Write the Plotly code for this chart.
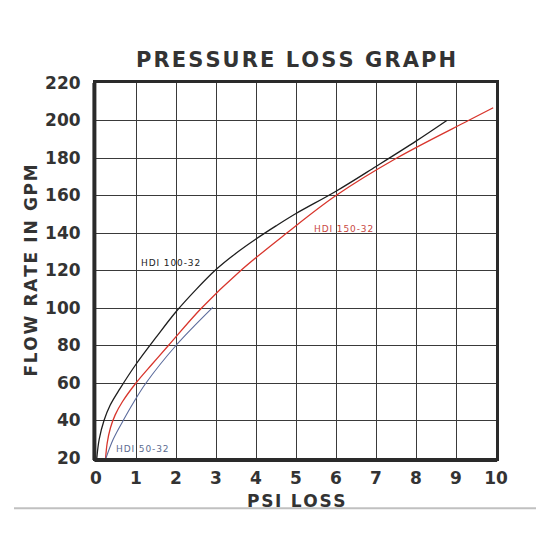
import plotly.graph_objects as go

# Curve readings (PSI loss, flow rate in GPM)
hdi100_psi = [0.02, 0.08, 0.2, 0.35, 0.6, 1.0, 1.5, 2.0, 2.5, 3.0, 3.5, 4.0, 4.5, 5.0, 6.0, 7.0, 8.0, 8.77]
hdi100_gpm = [20, 30, 40, 48, 57, 70, 84.3, 98, 109.8, 120.5, 129.2, 136.8, 143.8, 150.4, 162.3, 175.5, 189, 200]

hdi150_psi = [0.24, 0.28, 0.36, 0.48, 0.66, 1.0, 1.4, 1.81, 2.64, 3.62, 4.77, 6.0, 7.52, 9.31, 9.93]
hdi150_gpm = [20, 28, 36, 43, 50, 60, 70, 80, 100, 120, 140, 160, 180, 200, 206.8]

hdi50_psi = [0.25, 0.43, 0.68, 0.95, 1.25, 2.0, 2.92]
hdi50_gpm = [20, 30, 40, 50, 60, 80, 100.3]

x_ticks = list(range(0, 11))
y_ticks = list(range(20, 221, 20))


def spaced(s, gap='\u200a'):
    # spread the letters a little, like the printed chart
    return gap.join(s)


fig = go.Figure()

fig.add_trace(go.Scatter(x=hdi100_psi, y=hdi100_gpm, mode='lines', line_shape='spline',
                         line=dict(color='#1e1e1e', width=1.3)))
fig.add_trace(go.Scatter(x=hdi150_psi, y=hdi150_gpm, mode='lines', line_shape='spline',
                         line=dict(color='#d8352c', width=1.3)))
fig.add_trace(go.Scatter(x=hdi50_psi, y=hdi50_gpm, mode='lines', line_shape='spline',
                         line=dict(color='#5b6b9c', width=1.1)))

lbl_font = dict(family='DejaVu Sans', size=9)
fig.add_annotation(x=1.85, y=124, text=spaced('HDI 100-32'), showarrow=False,
                   font=dict(lbl_font, color='#222222'))
fig.add_annotation(x=6.18, y=142, text=spaced('HDI 150-32'), showarrow=False,
                   font=dict(lbl_font, color='#c9473f'))
fig.add_annotation(x=1.16, y=24.6, text=spaced('HDI 50-32'), showarrow=False,
                   font=dict(lbl_font, color='#5b6b8f'))

# Titles
fig.add_annotation(x=0.5, y=1.061, xref='paper', yref='paper', xanchor='center', yanchor='middle',
                   text=spaced('PRESSURE LOSS GRAPH'), showarrow=False,
                   font=dict(family='DejaVu Sans', size=21, color='#333333', weight='bold'))
fig.add_annotation(x=-0.165, y=0.5, xref='paper', yref='paper', xanchor='center', yanchor='middle',
                   textangle=-90, text=spaced('FLOW RATE IN GPM'), showarrow=False,
                   font=dict(family='DejaVu Sans', size=17, color='#333333', weight='bold'))
fig.add_annotation(x=0.5, y=-0.115, xref='paper', yref='paper', xanchor='center', yanchor='middle',
                   text=spaced('PSI LOSS'), showarrow=False,
                   font=dict(family='DejaVu Sans', size=17, color='#333333', weight='bold'))

# Bottom divider line
fig.add_shape(type='line', xref='paper', yref='paper', x0=-0.205, x1=1.10, y0=-0.134, y1=-0.134,
              line=dict(color='#c0c0c0', width=2))

# Heavy frame on left and bottom
fig.add_shape(type='line', xref='paper', yref='paper', x0=-0.004, x1=-0.004, y0=-0.005, y1=1.0,
              line=dict(color='#2a2a2a', width=4))
fig.add_shape(type='line', xref='paper', yref='paper', x0=-0.004, x1=1.003, y0=-0.005, y1=-0.005,
              line=dict(color='#2a2a2a', width=4))

tick_font = dict(family='DejaVu Sans', size=17, color='#333333', weight='bold')
fig.update_xaxes(range=[0, 10], tickvals=x_ticks, showgrid=True, gridcolor='#3a3a3a', gridwidth=0.8,
                 showline=True, linecolor='#2a2a2a', linewidth=3, mirror=True, zeroline=False,
                 tickfont=tick_font, ticklabelstandoff=3)
fig.update_yaxes(range=[20, 220], tickvals=y_ticks, showgrid=True, gridcolor='#3a3a3a', gridwidth=0.8,
                 showline=True, linecolor='#2a2a2a', linewidth=3, mirror=True, zeroline=False,
                 tickfont=tick_font, ticklabelstandoff=9)

# page body adds an 8px offset, so margins are trimmed to match
fig.update_layout(width=550, height=550, showlegend=False,
                  plot_bgcolor='white', paper_bgcolor='white',
                  margin=dict(l=88, r=62, t=75, b=100))

fig.write_html("out.html")
